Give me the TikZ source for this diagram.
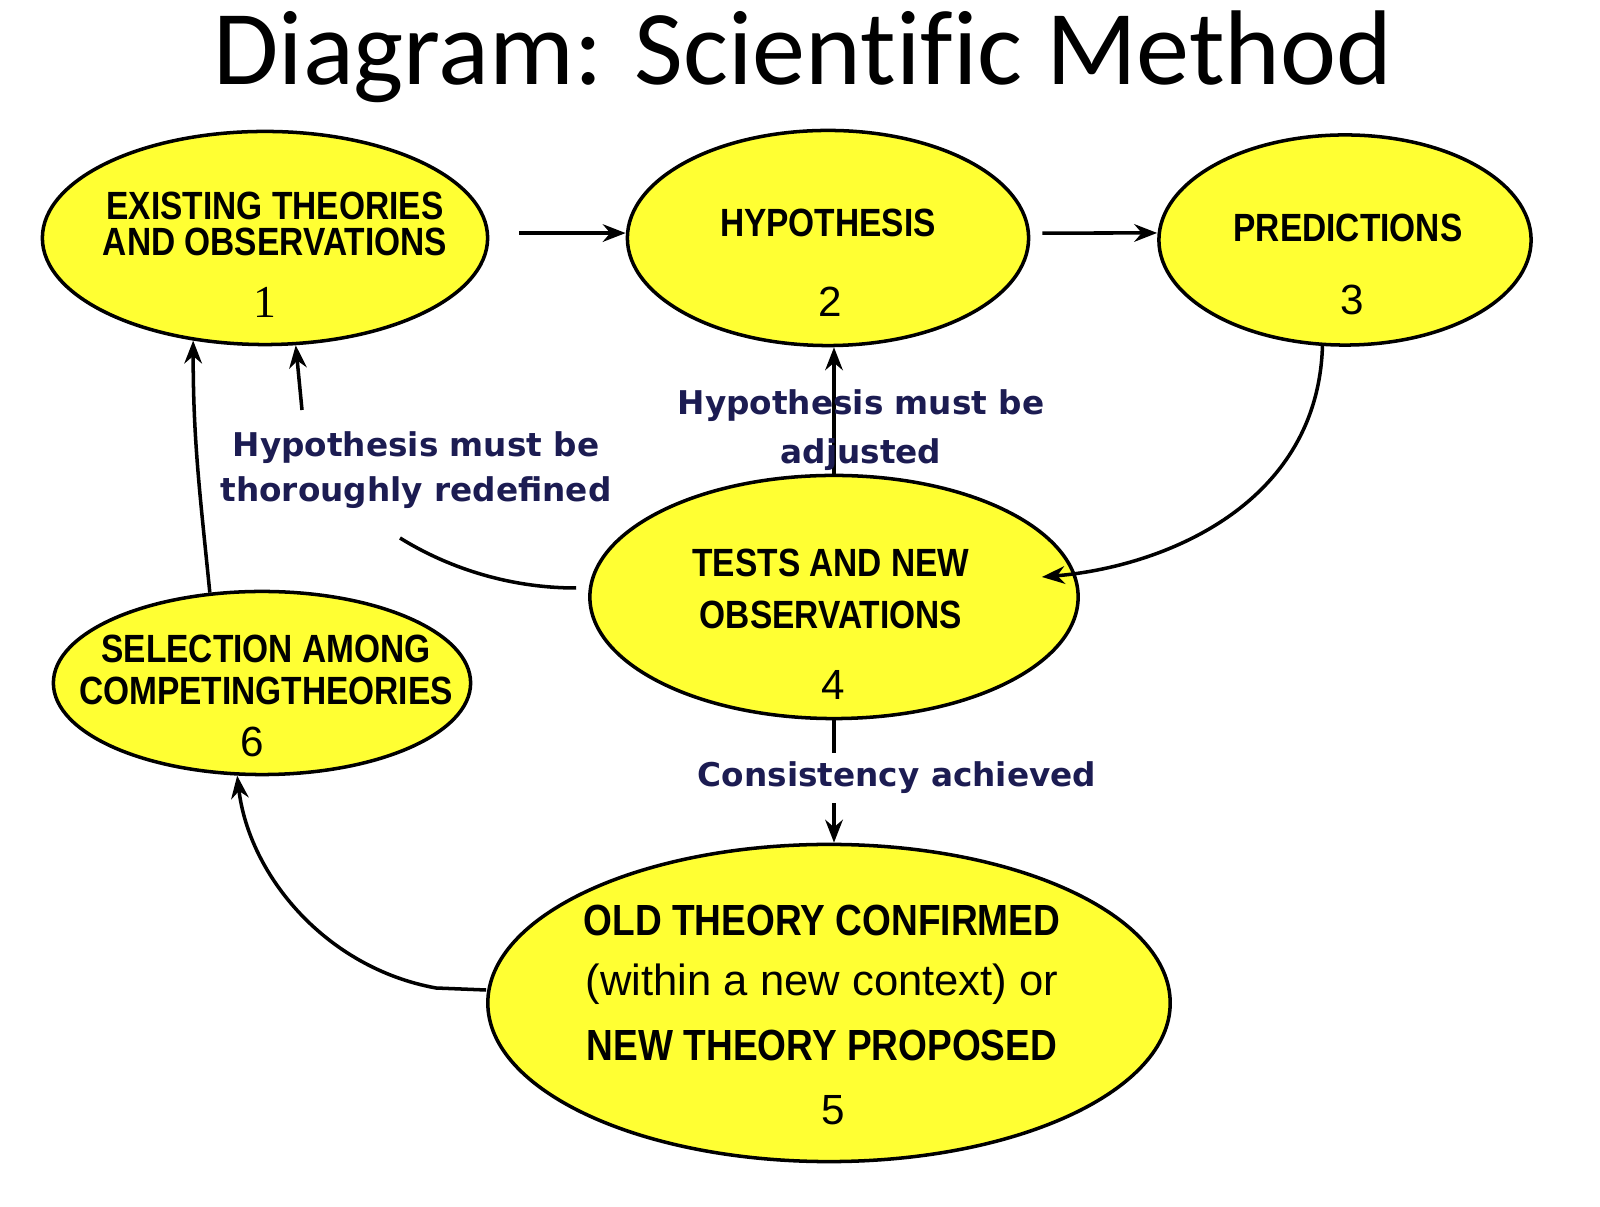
\documentclass[tikz,border=0pt]{standalone}
\usepackage{fontspec}
\setmainfont{Liberation Sans}
\newfontfamily\titlefont[Ligatures=NoCommon]{Carlito}
\newfontfamily\capsfont[FakeStretch=0.85]{Liberation Sans}
\newfontfamily\notefont{DejaVu Sans}
\newfontfamily\onefont{Liberation Serif}
\usetikzlibrary{shapes.geometric, arrows.meta}
\definecolor{stagefill}{RGB}{255,255,51}
\definecolor{notetext}{RGB}{28,28,82}

\begin{document}
\begin{tikzpicture}[> = {Stealth[length = 6.5pt, width = 5pt]}, % arrow head style
        x = 0.01cm, y = 0.01cm, % one unit = one pixel of the layout
        line width = 1pt % line style
    ]

    \tikzstyle{stage}=[draw = black, ellipse, fill = stagefill, inner sep = 0pt]
    \tikzstyle{caps}=[align = center, inner sep = 0pt,
        font = \capsfont\bfseries\fontsize{11.2}{13}\selectfont]
    \tikzstyle{num}=[inner sep = 0pt, font = \fontsize{12}{14}\selectfont]
    \tikzstyle{note}=[align = center, inner sep = 0pt, text = notetext,
        font = \notefont\bfseries\fontsize{9.3}{13}\selectfont]

    \useasboundingbox (0,0) rectangle (1600,1206);

    \node [font = \titlefont\fontsize{30.2}{36}\selectfont, anchor = base] (title) at (803,1121) {Diagram: Scientific Method};

    % the six stages
    \node [stage, minimum width = 4.45cm, minimum height = 2.13cm] (one) at (265,968) {};
    \node [stage, minimum width = 4.01cm, minimum height = 2.15cm] (two) at (828,968) {};
    \node [stage, minimum width = 3.72cm, minimum height = 2.10cm] (three) at (1345,966) {};
    \node [stage, minimum width = 4.88cm, minimum height = 2.43cm] (four) at (834,609) {};
    \node [stage, minimum width = 6.82cm, minimum height = 3.17cm] (five) at (829,203) {};
    \node [stage, minimum width = 4.17cm, minimum height = 1.83cm] (six) at (262,523) {};

    % free ends of the broken connector
    \coordinate (redefend) at (400,668);
    \coordinate (redefstart) at (302,796);

    % connectors
    \draw [->, shorten <= 3mm] ([yshift = 1.4pt]one.east) -- ([yshift = 1.4pt]two.west);
    \draw [->, shorten <= 1.2mm] ([yshift = 1.4pt]two.east) -- ([yshift = 2pt]three.west);
    \draw [->] (three.258) .. controls +(-5,-160) and +(120,10) .. ([shift = {(-38,20)}]four.east);
    \draw [->] (four.north) -- (four.north |- two.south);
    \draw ([shift = {(-12,9)}]four.west) .. controls +(-70,0) and +(45,-28) .. (redefend);
    \draw [->] (redefstart) -- (one.-74);
    \draw [->] (four.south) -- (four.south |- five.north);
    \draw [->] ([shift = {(0,13)}]five.west) -- ++(-50,2) .. controls +(-110,20) and +(12,-100) .. (six.-105);
    \draw [->] (six.120) .. controls +(-10,100) and +(0,-100) .. (one.-125);

    % stage texts
    \node [caps] (one-t) at (275,982) {EXISTING THEORIES\\[-3pt]AND OBSERVATIONS};
    \node [num, font = \onefont\fontsize{13}{14}\selectfont] (one-n) at (265,904) {1};
    \node [caps] (two-t) at (828,983) {HYPOTHESIS};
    \node [num] (two-n) at (830,904) {2};
    \node [caps] (three-t) at (1348,978) {PREDICTIONS};
    \node [num] (three-n) at (1352,906) {3};
    \node [caps] (four-t) at (831,617) {TESTS AND NEW\\[2pt]OBSERVATIONS};
    \node [num] (four-n) at (833,521) {4};
    \node [caps, font = \capsfont\bfseries\fontsize{12.4}{13}\selectfont] (five-t) at (822,223)
        {OLD THEORY CONFIRMED\\[4pt]{\normalfont (within a new context) or}\\[5.5pt]NEW THEORY PROPOSED};
    \node [num] (five-n) at (833,96) {5};
    \node [caps] (six-t) at (266,536) {SELECTION AMONG\\[-1pt]COMPETINGTHEORIES};
    \node [num] (six-n) at (252,464) {6};

    % connector labels
    \node [note] (redefined) at (416,736) {Hypothesis must be\\thoroughly redefined};
    \node [note] (adjusted) at (861,776) {Hypothesis must be\\[1pt]adjusted};
    \node [note, fill = white, inner ysep = 2.5pt] (consistent) at (897,428) {Consistency achieved};
\end{tikzpicture}
\end{document}
